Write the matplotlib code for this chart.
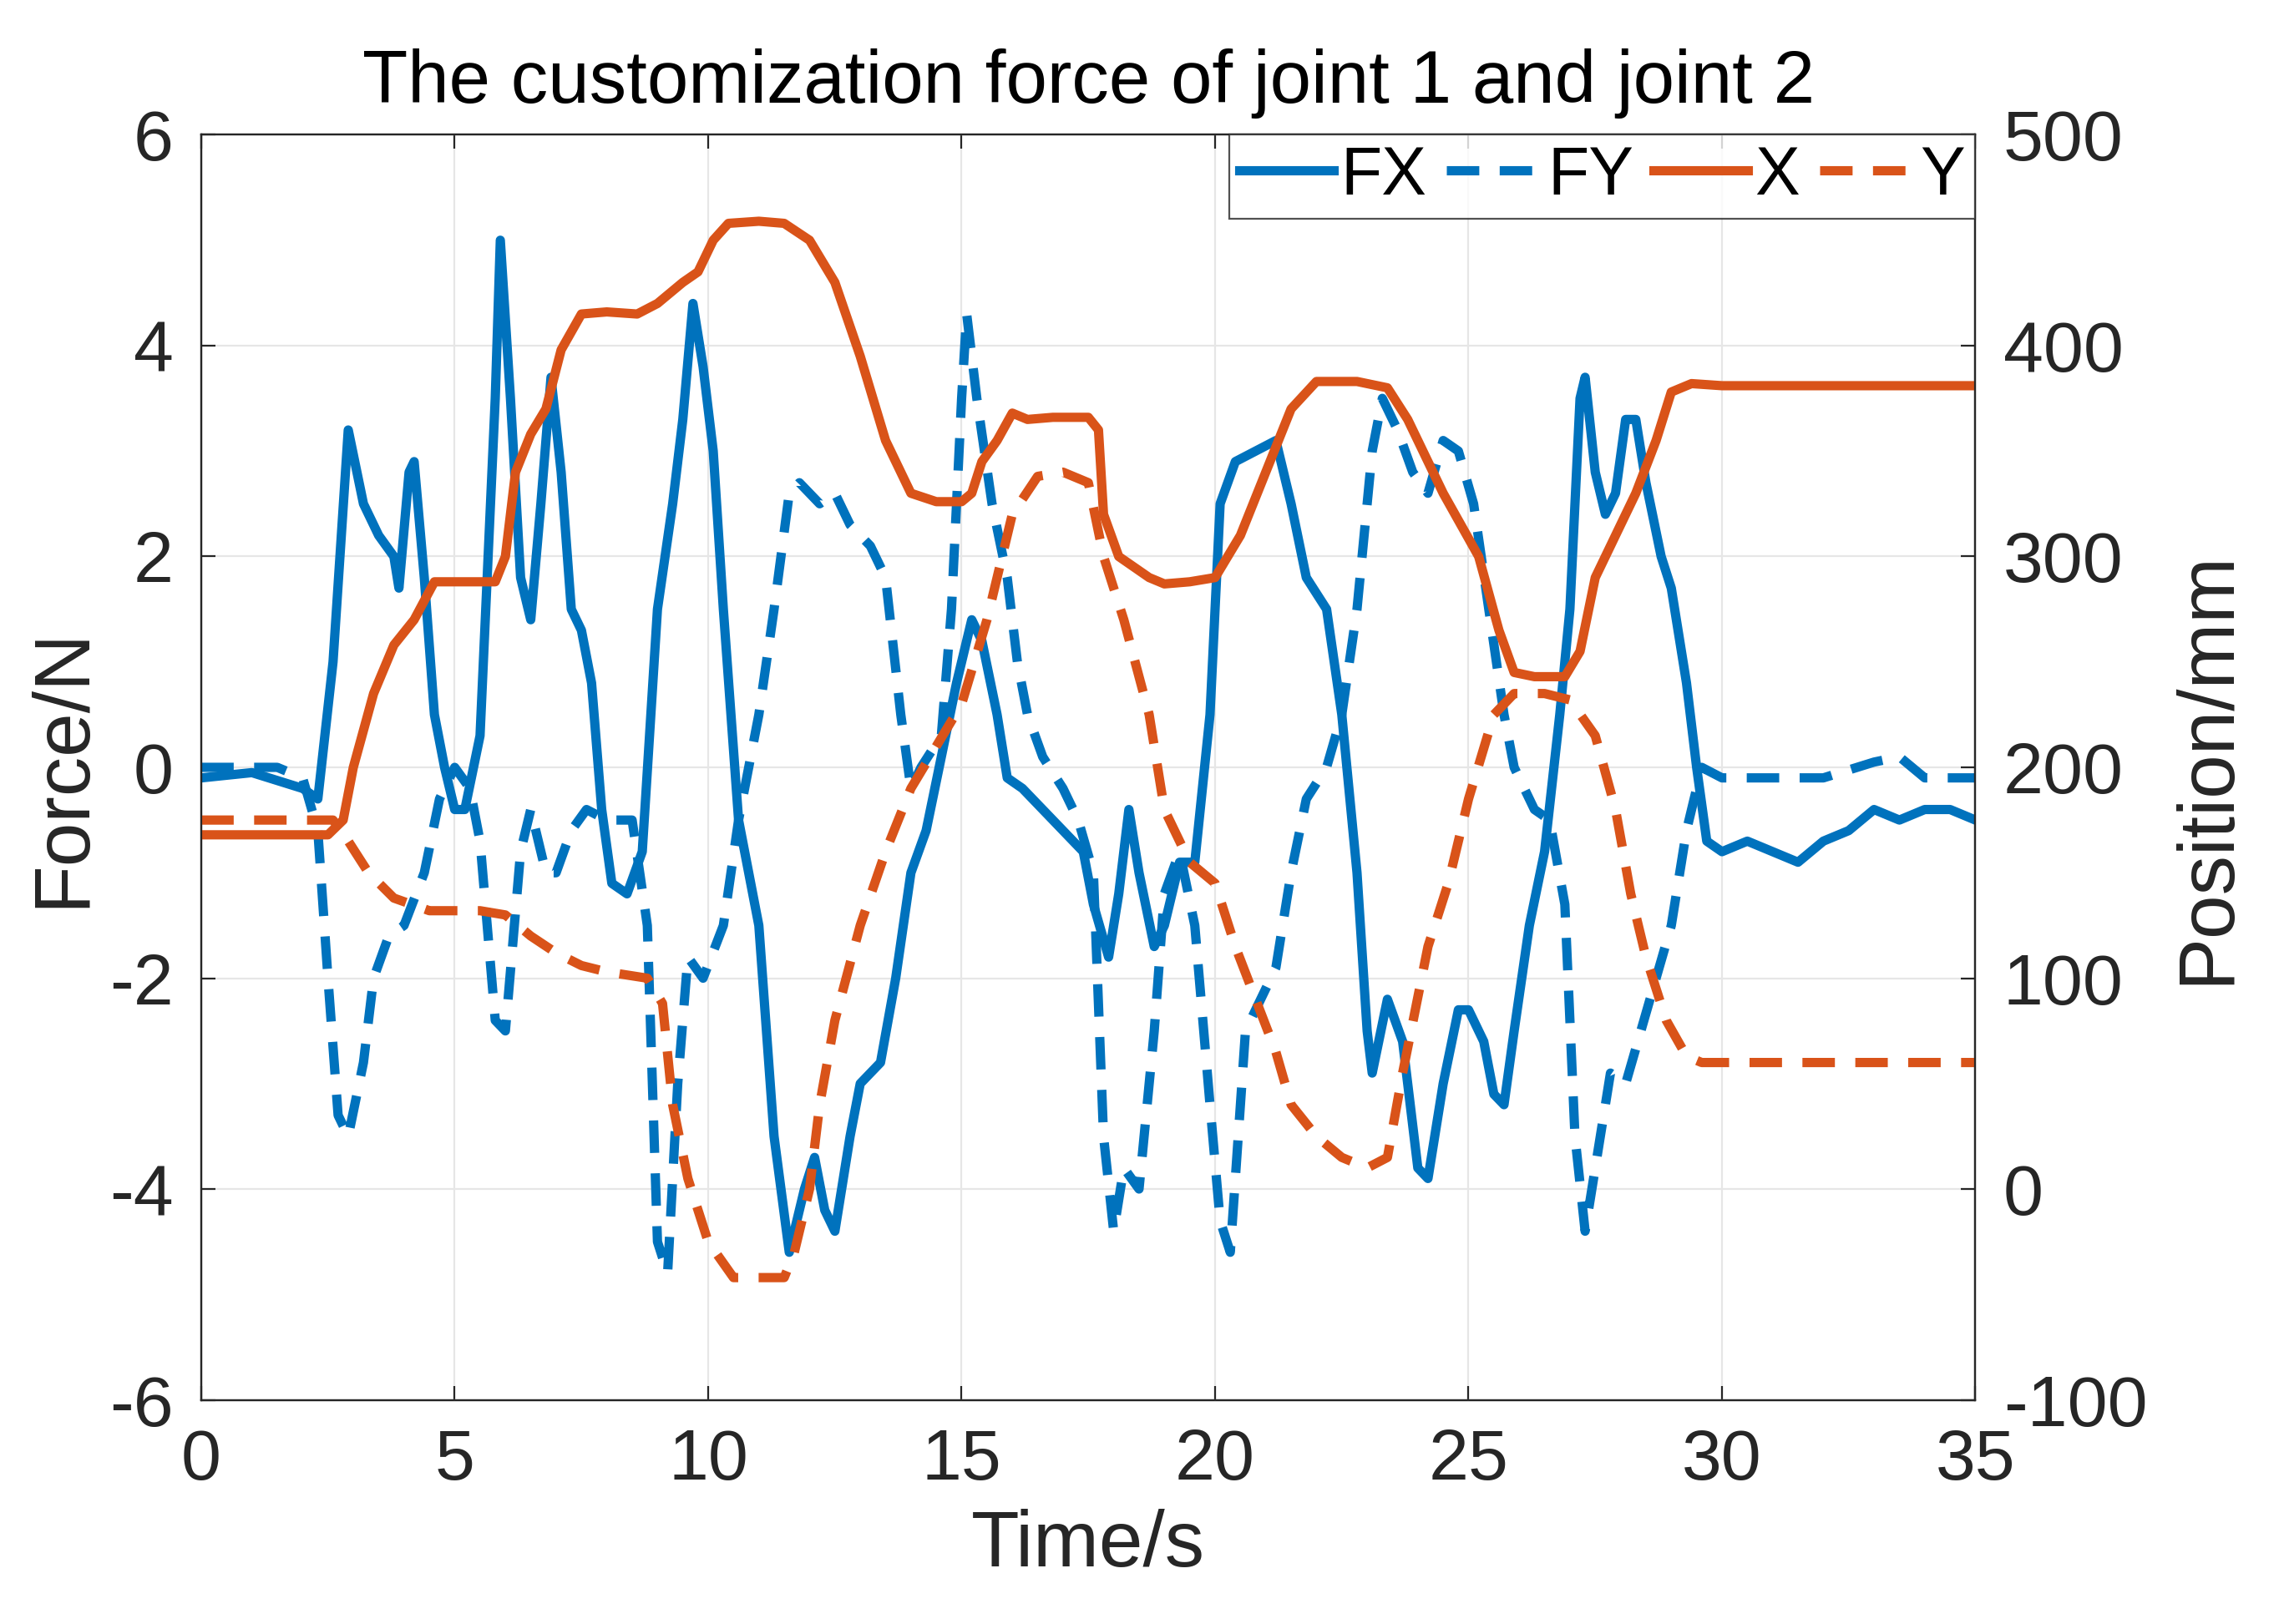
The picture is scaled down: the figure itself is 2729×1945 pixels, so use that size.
import matplotlib
matplotlib.use("Agg")
import matplotlib.pyplot as plt
import numpy as np

fx_t = [0,1,2,2.3,2.6,2.9,3.2,3.5,3.8,3.9,4.1,4.2,4.4,4.6,4.8,5.0,5.2,5.5,5.8,5.9,6.1,6.3,6.5,6.7,6.9,7.1,7.3,7.5,7.7,7.9,8.1,8.4,8.7,9.0,9.3,9.5,9.7,9.9,10.1,10.3,10.6,11.0,11.3,11.6,11.9,12.1,12.3,12.5,12.8,13.0,13.4,13.7,14.0,14.3,14.6,14.9,15.2,15.4,15.7,15.9,16.2,16.6,17.0,17.4,17.6,17.9,18.1,18.3,18.5,18.8,19.0,19.3,19.6,19.9,20.1,20.4,20.8,21.2,21.5,21.8,22.2,22.5,22.8,23.0,23.1,23.4,23.7,24.0,24.2,24.5,24.8,25.0,25.3,25.5,25.7,25.9,26.2,26.5,26.8,27.0,27.2,27.3,27.5,27.7,27.9,28.1,28.3,28.5,28.8,29.0,29.3,29.5,29.7,30.0,30.5,31.0,31.5,32.0,32.5,33.0,33.5,34.0,34.5,35]
fx_v = [-0.1,-0.05,-0.2,-0.3,1,3.2,2.5,2.2,2.0,1.7,2.8,2.9,1.8,0.5,0,-0.4,-0.4,0.3,3.5,5.0,3.5,1.8,1.4,2.5,3.7,2.8,1.5,1.3,0.8,-0.4,-1.1,-1.2,-0.8,1.5,2.5,3.3,4.4,3.8,3.0,1.5,-0.5,-1.5,-3.5,-4.6,-4.0,-3.7,-4.2,-4.4,-3.5,-3.0,-2.8,-2.0,-1.0,-0.6,0.1,0.8,1.4,1.2,0.5,-0.1,-0.2,-0.4,-0.6,-0.8,-1.3,-1.8,-1.2,-0.4,-1.0,-1.7,-1.5,-0.9,-0.9,0.5,2.5,2.9,3.0,3.1,2.5,1.8,1.5,0.5,-1.0,-2.5,-2.9,-2.2,-2.6,-3.8,-3.9,-3.0,-2.3,-2.3,-2.6,-3.1,-3.2,-2.5,-1.5,-0.8,0.5,1.5,3.5,3.7,2.8,2.4,2.6,3.3,3.3,2.7,2.0,1.7,0.8,0,-0.7,-0.8,-0.7,-0.8,-0.9,-0.7,-0.6,-0.4,-0.5,-0.4,-0.4,-0.5]

fy_t = [0,1.5,2.0,2.3,2.5,2.7,2.9,3.2,3.4,3.7,4.0,4.4,4.7,5.0,5.3,5.5,5.8,6.0,6.3,6.5,6.8,7.0,7.3,7.6,8.0,8.5,8.8,9.0,9.2,9.4,9.6,9.9,10.3,10.6,11.0,11.3,11.6,11.8,12.2,12.5,12.8,13.2,13.5,13.8,14.0,14.2,14.6,14.8,15.0,15.1,15.3,15.6,15.9,16.1,16.3,16.6,17.0,17.3,17.6,17.8,18.0,18.2,18.5,18.8,19.0,19.3,19.6,19.9,20.1,20.3,20.6,20.9,21.2,21.5,21.8,22.2,22.5,22.8,23.1,23.3,23.6,23.9,24.2,24.5,24.8,25.1,25.4,25.7,25.9,26.3,26.6,26.9,27.1,27.3,27.5,27.8,28.1,28.4,28.7,29.0,29.3,29.6,30.0,31,32,33,33.5,34,35]
fy_v = [0,0,-0.1,-0.6,-2.0,-3.3,-3.5,-2.8,-2.0,-1.6,-1.5,-1.0,-0.3,0,-0.2,-0.7,-2.4,-2.5,-0.8,-0.4,-1.0,-1.0,-0.6,-0.4,-0.5,-0.5,-1.5,-4.5,-4.8,-3.0,-1.8,-2.0,-1.5,-0.5,0.5,1.5,2.6,2.7,2.5,2.6,2.3,2.1,1.8,0.5,-0.2,0,0.3,1.5,3.5,4.3,3.5,2.5,1.8,1.0,0.5,0.1,-0.2,-0.5,-1.0,-3.5,-4.4,-3.8,-4.0,-2.5,-1.2,-0.8,-1.5,-3.2,-4.3,-4.6,-2.5,-2.2,-1.9,-1.0,-0.3,0,0.5,1.5,3.0,3.5,3.2,2.8,2.6,3.1,3.0,2.5,1.5,0.5,0,-0.4,-0.5,-1.3,-3.5,-4.4,-3.8,-2.9,-3.0,-2.5,-2.0,-1.5,-0.6,0,-0.1,-0.1,-0.1,0.05,0.1,-0.1,-0.1]

x_t = [0,2.5,2.8,3.0,3.4,3.8,4.2,4.6,5.0,5.8,6.0,6.2,6.5,6.8,7.1,7.5,8.0,8.6,9.0,9.5,9.8,10.1,10.4,11.0,11.5,12.0,12.5,13.0,13.5,14.0,14.5,15.0,15.2,15.4,15.7,16.0,16.3,16.8,17.5,17.7,17.8,18.1,18.4,18.7,19.0,19.5,20.0,20.5,21.0,21.5,22.0,22.8,23.4,23.8,24.5,25.2,25.6,25.9,26.3,26.9,27.2,27.5,27.9,28.3,28.7,29.0,29.4,30,35]
x_v = [168,168,175,200,235,258,270,288,288,288,300,340,358,370,398,415,416,415,420,430,435,450,458,459,458,450,430,395,355,330,326,326,330,345,355,368,365,366,366,360,320,300,295,290,287,288,290,310,340,370,383,383,380,365,330,300,265,245,243,243,255,290,310,330,355,378,382,381,381]

y_t = [0,2.6,2.9,3.3,3.8,4.5,5.5,6.0,6.5,7.0,7.5,8.0,8.8,9.1,9.3,9.6,10.0,10.5,11.5,11.7,12.0,12.2,12.5,13.0,13.5,14.0,14.5,15.0,15.5,16.0,16.5,17.0,17.5,17.8,18.2,18.7,19.0,19.5,20.0,20.4,20.8,21.2,21.5,22.0,22.5,23.0,23.4,23.7,24.2,24.6,25.0,25.5,25.9,26.5,27.0,27.5,27.9,28.2,28.5,28.9,29.3,29.6,35]
y_v = [175,175,165,150,138,132,132,130,120,112,106,103,100,88,40,5,-25,-42,-42,-30,0,40,80,125,160,190,210,230,270,320,338,340,335,300,270,225,180,155,145,115,90,65,40,25,15,10,15,55,115,145,185,225,235,235,232,215,180,140,110,80,63,60,60]

blue = "#0072BD"; orange = "#D95319"
plt.rcParams['font.family'] = ['Liberation Sans', 'DejaVu Sans']
plt.rcParams['axes.unicode_minus'] = False
fig = plt.figure(figsize=(13.645, 9.725), dpi=200)
ax = fig.add_axes([0.0883, 0.138, 0.7785, 0.779])
ax2 = ax.twinx()
lw = 4.0
ds = (0, (3.5, 2.2))
l1, = ax.plot(fx_t, fx_v, color=blue, lw=lw, label="FX")
l2, = ax.plot(fy_t, fy_v, color=blue, lw=lw, ls=ds, label="FY")
l3, = ax2.plot(x_t, x_v, color=orange, lw=lw, label="X")
l4, = ax2.plot(y_t, y_v, color=orange, lw=lw, ls=ds, label="Y")
ax.set_xlim(0, 35); ax.set_ylim(-6, 6); ax2.set_ylim(-100, 500)
ax.set_xticks(range(0, 36, 5)); ax.set_yticks(range(-6, 7, 2))
ax2.set_yticks(range(-100, 501, 100))
ax.grid(True, color="#e6e6e6", lw=0.8)
for a in (ax, ax2):
    a.tick_params(direction="in", labelsize=31, length=6, width=0.8, colors="#262626", pad=12)
    for s in a.spines.values():
        s.set_color("#262626"); s.set_linewidth(0.8)
ax.tick_params(top=True)
ax.set_xlabel("Time/s", fontsize=34, color="#262626", labelpad=6)
ax.set_ylabel("Force/N", fontsize=34, color="#262626")
ax2.set_ylabel("Position/mm", fontsize=34, color="#262626", labelpad=10)
ax.set_title("The customization force of joint 1 and joint 2", fontsize=32, pad=14)
leg = ax2.legend(handles=[l1, l2, l3, l4], loc="upper right", ncol=4, fontsize=29,
                 frameon=True, fancybox=False, edgecolor="#262626", handlelength=1.4,
                 handletextpad=0.1, columnspacing=0.3, borderpad=0.15, borderaxespad=0.0)
leg.get_frame().set_linewidth(0.8)
fig.savefig("out.png", dpi=200)
